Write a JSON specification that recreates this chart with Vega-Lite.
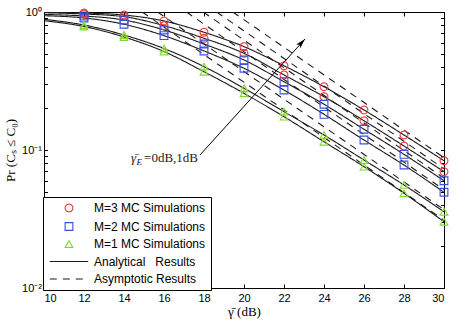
{
  "$schema": "https://vega.github.io/schema/vega-lite/v6.json",
  "width": 400,
  "height": 276,
  "autosize": {"type": "none"},
  "padding": {"left": 44, "top": 12, "right": 30, "bottom": 35},
  "background": "white",
  "config": {
    "view": {"stroke": "black", "strokeWidth": 1},
    "axis": {
      "domainColor": "black", "tickColor": "black", "labelColor": "black",
      "labelFont": "Liberation Sans", "labelFontSize": 11,
      "titleFont": "Liberation Serif", "titleFontSize": 13, "titleFontWeight": "normal", "titleColor": "black",
      "grid": false
    },
    "legend": {
      "labelFont": "Liberation Sans", "labelFontSize": 12, "labelColor": "black",
      "strokeColor": "black", "fillColor": "white", "padding": 5, "rowPadding": 4.5,
      "symbolStrokeWidth": 1.1, "symbolOffset": 14, "labelOffset": 18, "cornerRadius": 0
    }
  },
  "datasets": {
    "sim": [
      {"x": 12, "p": 0.983, "legend": "M=3 MC Simulations"}, {"x": 14, "p": 0.951, "legend": "M=3 MC Simulations"},
      {"x": 16, "p": 0.861, "legend": "M=3 MC Simulations"}, {"x": 18, "p": 0.713, "legend": "M=3 MC Simulations"},
      {"x": 20, "p": 0.561, "legend": "M=3 MC Simulations"}, {"x": 22, "p": 0.408, "legend": "M=3 MC Simulations"},
      {"x": 24, "p": 0.2875, "legend": "M=3 MC Simulations"}, {"x": 26, "p": 0.195, "legend": "M=3 MC Simulations"},
      {"x": 28, "p": 0.1284, "legend": "M=3 MC Simulations"}, {"x": 30, "p": 0.0836, "legend": "M=3 MC Simulations"},
      {"x": 12, "p": 0.967, "legend": "M=3 MC Simulations"}, {"x": 14, "p": 0.925, "legend": "M=3 MC Simulations"},
      {"x": 16, "p": 0.796, "legend": "M=3 MC Simulations"}, {"x": 18, "p": 0.645, "legend": "M=3 MC Simulations"},
      {"x": 20, "p": 0.502, "legend": "M=3 MC Simulations"}, {"x": 22, "p": 0.35, "legend": "M=3 MC Simulations"},
      {"x": 24, "p": 0.2433, "legend": "M=3 MC Simulations"}, {"x": 26, "p": 0.163, "legend": "M=3 MC Simulations"},
      {"x": 28, "p": 0.1069, "legend": "M=3 MC Simulations"}, {"x": 30, "p": 0.0697, "legend": "M=3 MC Simulations"},
      {"x": 12, "p": 0.935, "legend": "M=2 MC Simulations"}, {"x": 14, "p": 0.875, "legend": "M=2 MC Simulations"},
      {"x": 16, "p": 0.741, "legend": "M=2 MC Simulations"}, {"x": 18, "p": 0.586, "legend": "M=2 MC Simulations"},
      {"x": 20, "p": 0.449, "legend": "M=2 MC Simulations"}, {"x": 22, "p": 0.3126, "legend": "M=2 MC Simulations"},
      {"x": 24, "p": 0.2144, "legend": "M=2 MC Simulations"}, {"x": 26, "p": 0.1413, "legend": "M=2 MC Simulations"},
      {"x": 28, "p": 0.093, "legend": "M=2 MC Simulations"}, {"x": 30, "p": 0.0599, "legend": "M=2 MC Simulations"},
      {"x": 12, "p": 0.905, "legend": "M=2 MC Simulations"}, {"x": 14, "p": 0.815, "legend": "M=2 MC Simulations"},
      {"x": 16, "p": 0.674, "legend": "M=2 MC Simulations"}, {"x": 18, "p": 0.522, "legend": "M=2 MC Simulations"},
      {"x": 20, "p": 0.391, "legend": "M=2 MC Simulations"}, {"x": 22, "p": 0.272, "legend": "M=2 MC Simulations"},
      {"x": 24, "p": 0.1814, "legend": "M=2 MC Simulations"}, {"x": 26, "p": 0.1181, "legend": "M=2 MC Simulations"},
      {"x": 28, "p": 0.0778, "legend": "M=2 MC Simulations"}, {"x": 30, "p": 0.0494, "legend": "M=2 MC Simulations"},
      {"x": 12, "p": 0.805, "legend": "M=1 MC Simulations"}, {"x": 14, "p": 0.681, "legend": "M=1 MC Simulations"},
      {"x": 16, "p": 0.544, "legend": "M=1 MC Simulations"}, {"x": 18, "p": 0.402, "legend": "M=1 MC Simulations"},
      {"x": 20, "p": 0.28, "legend": "M=1 MC Simulations"}, {"x": 22, "p": 0.1895, "legend": "M=1 MC Simulations"},
      {"x": 24, "p": 0.1284, "legend": "M=1 MC Simulations"}, {"x": 26, "p": 0.0846, "legend": "M=1 MC Simulations"},
      {"x": 28, "p": 0.0558, "legend": "M=1 MC Simulations"}, {"x": 30, "p": 0.0357, "legend": "M=1 MC Simulations"},
      {"x": 12, "p": 0.785, "legend": "M=1 MC Simulations"}, {"x": 14, "p": 0.659, "legend": "M=1 MC Simulations"},
      {"x": 16, "p": 0.517, "legend": "M=1 MC Simulations"}, {"x": 18, "p": 0.369, "legend": "M=1 MC Simulations"},
      {"x": 20, "p": 0.2576, "legend": "M=1 MC Simulations"}, {"x": 22, "p": 0.1743, "legend": "M=1 MC Simulations"},
      {"x": 24, "p": 0.1148, "legend": "M=1 MC Simulations"}, {"x": 26, "p": 0.0757, "legend": "M=1 MC Simulations"},
      {"x": 28, "p": 0.0486, "legend": "M=1 MC Simulations"}, {"x": 30, "p": 0.0302, "legend": "M=1 MC Simulations"}
    ],
    "ana": [
      {"curve": "R1", "x": 10, "p": 0.995}, {"curve": "R1", "x": 12, "p": 0.983}, {"curve": "R1", "x": 14, "p": 0.951}, {"curve": "R1", "x": 16, "p": 0.861}, {"curve": "R1", "x": 18, "p": 0.713}, {"curve": "R1", "x": 20, "p": 0.561}, {"curve": "R1", "x": 22, "p": 0.408}, {"curve": "R1", "x": 24, "p": 0.2875}, {"curve": "R1", "x": 26, "p": 0.195}, {"curve": "R1", "x": 28, "p": 0.1284}, {"curve": "R1", "x": 30, "p": 0.0836},
      {"curve": "R0", "x": 10, "p": 0.988}, {"curve": "R0", "x": 12, "p": 0.967}, {"curve": "R0", "x": 14, "p": 0.925}, {"curve": "R0", "x": 16, "p": 0.796}, {"curve": "R0", "x": 18, "p": 0.645}, {"curve": "R0", "x": 20, "p": 0.502}, {"curve": "R0", "x": 22, "p": 0.35}, {"curve": "R0", "x": 24, "p": 0.2433}, {"curve": "R0", "x": 26, "p": 0.163}, {"curve": "R0", "x": 28, "p": 0.1069}, {"curve": "R0", "x": 30, "p": 0.0697},
      {"curve": "B1", "x": 10, "p": 0.96}, {"curve": "B1", "x": 12, "p": 0.935}, {"curve": "B1", "x": 14, "p": 0.875}, {"curve": "B1", "x": 16, "p": 0.741}, {"curve": "B1", "x": 18, "p": 0.586}, {"curve": "B1", "x": 20, "p": 0.449}, {"curve": "B1", "x": 22, "p": 0.3126}, {"curve": "B1", "x": 24, "p": 0.2144}, {"curve": "B1", "x": 26, "p": 0.1413}, {"curve": "B1", "x": 28, "p": 0.093}, {"curve": "B1", "x": 30, "p": 0.0599},
      {"curve": "B0", "x": 10, "p": 0.94}, {"curve": "B0", "x": 12, "p": 0.905}, {"curve": "B0", "x": 14, "p": 0.815}, {"curve": "B0", "x": 16, "p": 0.674}, {"curve": "B0", "x": 18, "p": 0.522}, {"curve": "B0", "x": 20, "p": 0.391}, {"curve": "B0", "x": 22, "p": 0.272}, {"curve": "B0", "x": 24, "p": 0.1814}, {"curve": "B0", "x": 26, "p": 0.1181}, {"curve": "B0", "x": 28, "p": 0.0778}, {"curve": "B0", "x": 30, "p": 0.0494},
      {"curve": "G1", "x": 10, "p": 0.885}, {"curve": "G1", "x": 12, "p": 0.805}, {"curve": "G1", "x": 14, "p": 0.681}, {"curve": "G1", "x": 16, "p": 0.544}, {"curve": "G1", "x": 18, "p": 0.402}, {"curve": "G1", "x": 20, "p": 0.28}, {"curve": "G1", "x": 22, "p": 0.1895}, {"curve": "G1", "x": 24, "p": 0.1284}, {"curve": "G1", "x": 26, "p": 0.0846}, {"curve": "G1", "x": 28, "p": 0.0558}, {"curve": "G1", "x": 30, "p": 0.0357},
      {"curve": "G0", "x": 10, "p": 0.865}, {"curve": "G0", "x": 12, "p": 0.785}, {"curve": "G0", "x": 14, "p": 0.659}, {"curve": "G0", "x": 16, "p": 0.517}, {"curve": "G0", "x": 18, "p": 0.369}, {"curve": "G0", "x": 20, "p": 0.2576}, {"curve": "G0", "x": 22, "p": 0.1743}, {"curve": "G0", "x": 24, "p": 0.1148}, {"curve": "G0", "x": 26, "p": 0.0757}, {"curve": "G0", "x": 28, "p": 0.0486}, {"curve": "G0", "x": 30, "p": 0.0302}
    ],
    "asy": [
      {"curve": "R1", "x": 19.44, "p": 1}, {"curve": "R1", "x": 30, "p": 0.088},
      {"curve": "R0", "x": 18.63, "p": 1}, {"curve": "R0", "x": 30, "p": 0.073},
      {"curve": "B1", "x": 17.96, "p": 1}, {"curve": "B1", "x": 30, "p": 0.0625},
      {"curve": "B0", "x": 17.12, "p": 1}, {"curve": "B0", "x": 30, "p": 0.0515},
      {"curve": "G1", "x": 15.68, "p": 1}, {"curve": "G1", "x": 30, "p": 0.037},
      {"curve": "G0", "x": 14.91, "p": 1}, {"curve": "G0", "x": 30, "p": 0.031}
    ],
    "arrow": [{"x": 17.8, "p": 0.092}, {"x": 23.05, "p": 0.637}],
    "head": [{"x": 22.88, "p": 0.599}],
    "note": [{"x": 17.7, "p": 0.0812}]
  },
  "layer": [
    {
      "encoding": {
        "x": {
          "field": "x", "type": "quantitative",
          "scale": {"domain": [10, 30], "nice": false},
          "axis": {"values": [10, 12, 14, 16, 18, 20, 22, 24, 26, 28, 30], "tickSize": -4, "labelPadding": 8, "title": "γ̄ (dB)", "titlePadding": 2}
        },
        "y": {
          "field": "p", "type": "quantitative",
          "scale": {"type": "log", "domain": [0.01, 1], "nice": false},
          "axis": {
            "values": [0.01, 0.02, 0.03, 0.04, 0.05, 0.06, 0.07, 0.08, 0.09, 0.1, 0.2, 0.3, 0.4, 0.5, 0.6, 0.7, 0.8, 0.9, 1],
            "labelExpr": "datum.value == 1 ? '10⁰' : datum.value == 0.1 ? '10⁻¹' : datum.value == 0.01 ? '10⁻²' : ''",
            "tickSize": -3.5, "labelPadding": 6, "title": "Pr (Cₛ ≤ C₀)", "titlePadding": 4
          }
        }
      },
      "layer": [
        {
          "data": {"name": "ana"},
          "transform": [{"calculate": "'Analytical\u00a0\u00a0\u00a0Results'", "as": "legend"}],
          "mark": {"type": "line", "interpolate": "monotone", "strokeWidth": 1.1, "clip": true},
          "encoding": {
            "detail": {"field": "curve"},
            "color": {"field": "legend", "type": "nominal"},
            "strokeDash": {"field": "legend", "type": "nominal"}
          }
        },
        {
          "data": {"name": "asy"},
          "transform": [{"calculate": "'Asymptotic Results'", "as": "legend"}],
          "mark": {"type": "line", "strokeWidth": 1.1, "clip": true},
          "encoding": {
            "detail": {"field": "curve"},
            "color": {"field": "legend", "type": "nominal"},
            "strokeDash": {"field": "legend", "type": "nominal"}
          }
        },
        {
          "data": {"name": "sim"},
          "mark": {"type": "point", "filled": false, "strokeWidth": 1.1, "opacity": 1},
          "encoding": {
            "color": {
              "field": "legend", "type": "nominal",
              "scale": {
                "domain": ["M=3 MC Simulations", "M=2 MC Simulations", "M=1 MC Simulations", "Analytical\u00a0\u00a0\u00a0Results", "Asymptotic Results"],
                "range": ["#e8393c", "#3a4fe0", "#86d630", "#1a1a1a", "#1a1a1a"]
              },
              "legend": {"orient": "none", "legendX": -1, "legendY": 185, "title": null}
            },
            "shape": {
              "field": "legend", "type": "nominal",
              "scale": {
                "domain": ["M=3 MC Simulations", "M=2 MC Simulations", "M=1 MC Simulations", "Analytical\u00a0\u00a0\u00a0Results", "Asymptotic Results"],
                "range": ["circle", "square", "triangle-up", "M-3.2,0L3.2,0", "M-3.2,0L3.2,0"]
              }
            },
            "size": {
              "field": "legend", "type": "nominal",
              "scale": {
                "type": "ordinal",
                "domain": ["M=3 MC Simulations", "M=2 MC Simulations", "M=1 MC Simulations", "Analytical\u00a0\u00a0\u00a0Results", "Asymptotic Results"],
                "range": [60, 60, 60, 144, 144]
              }
            },
            "strokeDash": {
              "field": "legend", "type": "nominal",
              "scale": {
                "domain": ["M=3 MC Simulations", "M=2 MC Simulations", "M=1 MC Simulations", "Analytical\u00a0\u00a0\u00a0Results", "Asymptotic Results"],
                "range": [[1, 0], [1, 0], [1, 0], [1, 0], [7, 6]]
              }
            }
          }
        },
        {
          "data": {"name": "arrow"},
          "mark": {"type": "line", "color": "black", "strokeWidth": 1},
          "encoding": {}
        },
        {
          "data": {"name": "head"},
          "mark": {"type": "point", "shape": "M0,-1L0.55,1L0,0.55L-0.55,1Z", "size": 100, "angle": 42, "filled": true, "color": "black", "opacity": 1}
        },
        {
          "data": {"name": "note"},
          "mark": {"type": "text", "text": "=0dB,1dB", "align": "right", "baseline": "alphabetic", "font": "Liberation Serif", "fontSize": 13, "color": "#222"}
        },
        {
          "data": {"name": "note"},
          "mark": {"type": "text", "text": "E", "align": "right", "baseline": "alphabetic", "dx": -56, "dy": 3, "font": "Liberation Serif", "fontStyle": "italic", "fontSize": 9, "color": "#222"}
        },
        {
          "data": {"name": "note"},
          "mark": {"type": "text", "text": "γ̄", "align": "right", "baseline": "alphabetic", "dx": -62, "font": "Liberation Serif", "fontStyle": "italic", "fontSize": 13, "color": "#222"}
        }
      ]
    },
    {
      "data": {"name": "arrow"},
      "mark": {"type": "point", "opacity": 0},
      "encoding": {
        "x": {
          "field": "x", "type": "quantitative",
          "scale": {"domain": [10, 30], "nice": false},
          "axis": {"orient": "top", "values": [10, 12, 14, 16, 18, 20, 22, 24, 26, 28, 30], "tickSize": -4, "labels": false, "title": null, "domain": false}
        },
        "y": {
          "field": "p", "type": "quantitative",
          "scale": {"type": "log", "domain": [0.01, 1], "nice": false},
          "axis": {"orient": "right", "values": [0.01, 0.02, 0.03, 0.04, 0.05, 0.06, 0.07, 0.08, 0.09, 0.1, 0.2, 0.3, 0.4, 0.5, 0.6, 0.7, 0.8, 0.9, 1], "tickSize": -3.5, "labels": false, "title": null, "domain": false}
        }
      }
    }
  ],
  "resolve": {"scale": {"x": "independent", "y": "independent"}}
}
